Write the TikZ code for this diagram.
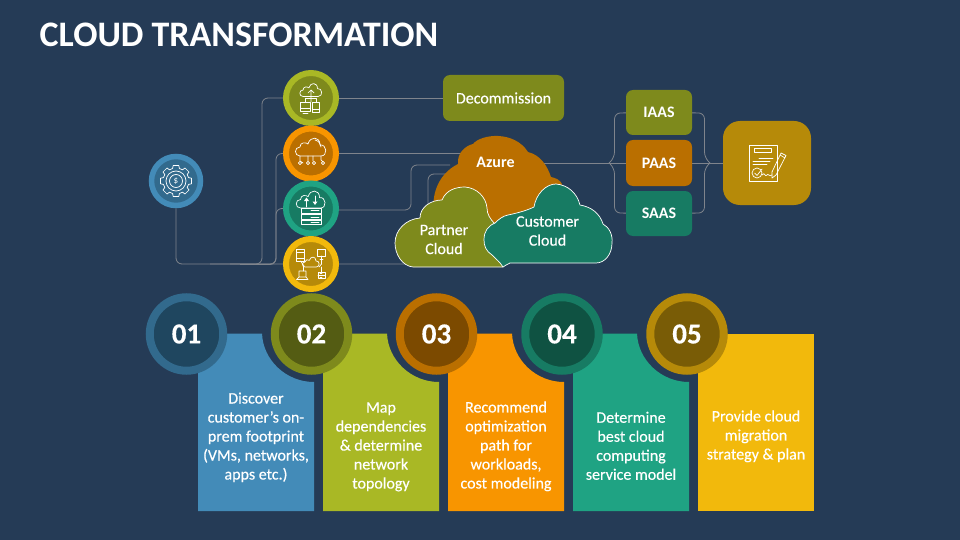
\documentclass[tikz,border=0pt]{standalone}
\usepackage{fontspec}
\setmainfont{Carlito}
\newfontfamily\medf{Carlito}[FakeBold=0.35]
\newfontfamily\numf{Carlito Bold}[FakeBold=0.3]
\usetikzlibrary{backgrounds}
\definecolor{bgc}{HTML}{253B56}
\definecolor{lnc}{HTML}{7F848C}
\definecolor{blA}{HTML}{438BB8}\definecolor{blB}{HTML}{326A8D}\definecolor{blC}{HTML}{1F465F}
\definecolor{olA}{HTML}{A9B825}\definecolor{olB}{HTML}{7E8A1C}\definecolor{olC}{HTML}{545C13}
\definecolor{orA}{HTML}{F89500}\definecolor{orB}{HTML}{BA6F00}\definecolor{orC}{HTML}{7C4A00}
\definecolor{grA}{HTML}{1FA383}\definecolor{grB}{HTML}{177B63}\definecolor{grC}{HTML}{0F5242}
\definecolor{yeA}{HTML}{F2B90C}\definecolor{yeB}{HTML}{B68A09}\definecolor{yeC}{HTML}{795C06}
\tikzset{
 ring/.style n args={3}{circle,inner sep=0pt,minimum size=#1pt,line width=#2pt,fill=#3},
 num/.style={text=white,font=\numf\fontsize{29}{30}\selectfont},
 body/.style={text=white,align=center,font=\medf\fontsize{16}{19}\selectfont},
 box/.style={rounded corners=7pt,inner sep=0pt,text=white,font=\medf\fontsize{16}{19}\selectfont},
 boxb/.style={box,font=\fontsize{16}{19}\selectfont\bfseries},
 conn/.style={draw=lnc,line width=.8pt,rounded corners=6pt},
 ico/.style={draw=white,line width=.7pt,line join=round,line cap=round},
 cl/.style={draw=white,line width=.7pt,line join=round},
}
\newcommand{\iconcloud}[4][]{%
 \draw[ico,#1,shift={(#2,#3)},scale=#4] (-11,9) .. controls (-17,9) and (-17,0) .. (-11,0) .. controls (-11,-5) and (-5,-5) .. (-3,-3) .. controls (-1,-11) and (9,-11) .. (9,-2) .. controls (16,-3) and (17,9) .. (10,9) -- cycle;}
\begin{document}
\begin{tikzpicture}[x=1pt,y=-1pt]
\useasboundingbox (0,0) rectangle (960,540);
\begin{scope}[on background layer]
\fill[bgc] (0,0) rectangle (960,540);
\end{scope}
\node[anchor=west,text=white,inner sep=0pt,font=\fontsize{35.9}{38}\selectfont\bfseries] (title) at (39.5,34.5) {CLOUD TRANSFORMATION};

% panels
\foreach \x/\c in {198/blA,323/olA,448/orA,573/grA}{
 \fill[\c] (\x,333.5) -- (\x+64,333.5) .. controls (\x+65,360) and (\x+88,382) .. (\x+116,382) -- (\x+116,511) -- (\x,511) -- cycle;
}
\fill[yeA] (698,334) rectangle (814,511);
\node[body] (t1) at (256,437.3) {Discover\\customer’s on-\\prem footprint\\(VMs, networks,\\apps etc.)};
\node[body] (t2) at (381,446.8) {Map\\dependencies\\\& determine\\network\\topology};
\node[body] (t3) at (506,446.3) {Recommend\\optimization\\path for\\workloads,\\cost modeling};
\node[body] (t4) at (631,445.8) {Determine\\best cloud\\computing\\service model};
\node[body] (t5) at (756,436.3) {Provide cloud\\migration\\strategy \& plan};
% numbered circles
\node[ring={73.5}{8}{blC},draw=blB] (n1) at (186.5,334) {};
\node[ring={73.5}{8}{olC},draw=olB] (n2) at (311.5,334) {};
\node[ring={73.5}{8}{orC},draw=orB] (n3) at (436.5,334) {};
\node[ring={73.5}{8}{grC},draw=grB] (n4) at (562,334) {};
\node[ring={73.5}{8}{yeC},draw=yeB] (n5) at (687,334) {};
\node[num] (l1) at (n1) {01};\node[num] (l2) at (n2) {02};\node[num] (l3) at (n3) {03};\node[num] (l4) at (n4) {04};\node[num] (l5) at (n5) {05};

% top circles
\node[ring={50}{6}{olB},draw=olA] (c1) at (311,98) {};
\node[ring={50}{6}{orB},draw=orA] (c2) at (311,153.5) {};
\node[ring={50}{6}{grB},draw=grA] (c3) at (311,208.5) {};
\node[ring={50}{6}{yeB},draw=yeA] (c4) at (311,264) {};
\node[ring={49}{5.5}{blB},draw=blA] (g) at (176,181) {};

\node[box,fill=olB,minimum width=121pt,minimum height=46pt] (dec) at (503.5,98) {Decommission};
\node[boxb,fill=olB,minimum width=66pt,minimum height=45pt] (iaas) at (659,112.5) {IAAS};
\node[boxb,fill=orB,minimum width=66pt,minimum height=46pt] (paas) at (659,163) {PAAS};
\node[boxb,fill=grB,minimum width=66pt,minimum height=45pt] (saas) at (659,213.5) {SAAS};
\node[box,fill=yeB,rounded corners=17pt,minimum width=88pt,minimum height=84pt] (doc) at (767,163) {};

\coordinate (azL) at (470,153.5);
\coordinate (azM) at (450,165);
\coordinate (azN) at (450,174);
\coordinate (azR) at (540,163);
\coordinate (c3o) at (311,210);

% connectors
\begin{scope}[on background layer]
\begin{scope}[conn]
\draw (g.south) -- (176,264) -- (c4.center);
\draw (210,264) -- (262,264) -- (262,98) -- (c1.center);
\draw (230,264) -- (276,264) -- (276,153.5) -- (c2.center);
\draw (240,264.5) -- (276,264.5) -- (276,208.5) -- (c3.center);
\draw (c2.center) -- (azL);
\draw (c3o) -- (411,210) -- (411,165) -- (azM);
\draw (c4.center) -- (428,264) -- (428,174) -- (azN);
\draw (c1.center) -- (dec.center);
\draw (azR) -- (paas.center);
\draw (iaas.center) -- (614.5,113) -- (614.5,158) -- (609,163);
\draw (saas.center) -- (614.5,213) -- (614.5,168) -- (609,163);
\draw (paas.center) -- (doc.center);
\draw (iaas.center) -- (704.5,113) -- (704.5,158) -- (710,163);
\draw (saas.center) -- (704.5,213) -- (704.5,168) -- (710,163);
\end{scope}
\end{scope}

% clouds
\fill[orB] (436,222) .. controls (429,200) and (436,175) .. (458,164)
 .. controls (457,153) and (465,146) .. (473,144)
 .. controls (481,134) and (514,130) .. (528,152)
 .. controls (540,155) and (547,165) .. (551,177)
 .. controls (556,178) and (560,180) .. (562,184)
 -- (545,235) -- (470,245) -- cycle;
\node[text=white,font=\fontsize{16}{19}\selectfont\bfseries] (az) at (495.5,162) {Azure};
\filldraw[olB,cl] (413,267) .. controls (402,266) and (395,254) .. (395,243)
 .. controls (395,230) and (406,219) .. (420,218)
 .. controls (420,207) and (431,200) .. (442,200)
 .. controls (446,190) and (456,187) .. (465,187)
 .. controls (477,188) and (486,197) .. (487,208)
 .. controls (487,214) and (490,219) .. (495,224)
 -- (503,267) -- cycle;
\node[body] (pt) at (444,239.5) {Partner\\Cloud};
\filldraw[grB,cl] (503,267) .. controls (500,262) and (496,259) .. (492,255)
 .. controls (486,251) and (484,246) .. (484,240)
 .. controls (484,231) and (488,226) .. (495,223)
 .. controls (499,219) and (503,216) .. (508,215)
 .. controls (518,213) and (528,210) .. (534,207)
 .. controls (536,194) and (546,184) .. (556,184)
 .. controls (568,185) and (577,193) .. (580,205)
 .. controls (592,207) and (600,214) .. (603,224)
 .. controls (609,227) and (613,235) .. (612,243)
 .. controls (612,254) and (605,263) .. (596,263)
 -- (510,263) .. controls (507,264) and (505,266) .. (503,267) -- cycle;
\node[body] (cu) at (547.5,231) {Customer\\Cloud};

% icons
\begin{scope}[ico]
% c1
\iconcloud{311}{90}{.72}
\draw (311,102) -- (311,90) (308,93) -- (311,90) -- (314,93);
\draw (305,102) -- (305,98.5) -- (316,98.5) -- (316,102);
\draw (300.5,102) rectangle (310,111) (300.5,108.5) -- (310,108.5) (303,113) -- (308,113);
\draw (312.5,102) rectangle (319.5,112.5) (312.5,109.5) -- (319.5,109.5);
% c2
\iconcloud{311}{147}{1}
\draw (315,140) .. controls (319,141) and (321,144) .. (321,147);
\draw (300,156) -- (300,161) -- (303,163) (308,156) -- (308,161) (313,156) -- (313,161) (321,156) -- (321,160) -- (323,162);
\draw (300,163) circle (1.6) (308,163) circle (1.6) (314,163) circle (1.6) (323,163) circle (1.6);
% c3
\iconcloud{311}{199.5}{.95}
\fill[white,draw=none] (306.5,197.5) -- (304,201) -- (309,201) -- cycle;
\fill[white,draw=none] (315,205) -- (312.5,201.5) -- (317.5,201.5) -- cycle;
\draw (306.5,200) -- (306.5,207) (315,196) -- (315,202);
\draw[fill=grB] (301,208) rectangle (321,213) (301,214.5) rectangle (321,219) (301,220) rectangle (321,224.5);
\draw (311,210.5) -- (319,210.5) (311,217) -- (319,217) (311,222) -- (319,222);
% c4
\draw (296.5,249.5) rectangle (304,261) (296.5,252) -- (304,252) (296.5,258.5) -- (304,258.5);
\draw (317,249) rectangle (325.5,256) (320,259) -- (323,259) (321.5,256) -- (321.5,264);
\iconcloud{311}{262}{.55}
\draw (300.5,261) -- (304,266) (321.5,264) -- (319,267);
\draw (299,271) rectangle (306,277) (296.5,279.5) -- (308,279.5) -- (306,277) (299,277) -- (296.5,279.5);
\draw (303,266) -- (303,271);
\draw (318,272) rectangle (325.5,278.5) (318,275.2) -- (325.5,275.2) (320,273.6) -- (322,273.6) (320,277) -- (322,277);
\draw (321.5,267) -- (321.5,272);
% gear
\draw[shift={(176,181)}] (0,-15.5) -- (2.8,-15.5) -- (3.4,-12.5) -- (6.5,-11.2) -- (9,-13) -- (13,-9) -- (11.2,-6.5) -- (12.5,-3.4) -- (15.5,-2.8) -- (15.5,2.8) -- (12.5,3.4) -- (11.2,6.5) -- (13,9) -- (9,13) -- (6.5,11.2) -- (3.4,12.5) -- (2.8,15.5) -- (-2.8,15.5) -- (-3.4,12.5) -- (-6.5,11.2) -- (-9,13) -- (-13,9) -- (-11.2,6.5) -- (-12.5,3.4) -- (-15.5,2.8) -- (-15.5,-2.8) -- (-12.5,-3.4) -- (-11.2,-6.5) -- (-13,-9) -- (-9,-13) -- (-6.5,-11.2) -- (-3.4,-12.5) -- (-2.8,-15.5) -- cycle;
\draw (176,181) circle (10) (176,181) circle (6.5);
% doc
\draw[line width=.9pt] (749,145) rectangle (777,181);
\draw (754,148) rectangle (771,152) (759,158) -- (773,158) (753,161) -- (770,161) (753,164) -- (767,164);
\draw (757,173) circle (5) (754.5,173) -- (757,175.5) -- (762,169);
\draw (762,175) .. controls (765,171) and (765,178) .. (767,175) .. controls (768,173) and (769,177) .. (772,175);
\draw (772,172) -- (781,153) -- (786,155.5) -- (776,175) -- (772,178) -- cycle (780,155) -- (785,158);
\end{scope}
\node[text=white,inner sep=0pt,font=\fontsize{9}{9}\selectfont] (dollar) at (g) {\$};
\end{tikzpicture}
\end{document}
